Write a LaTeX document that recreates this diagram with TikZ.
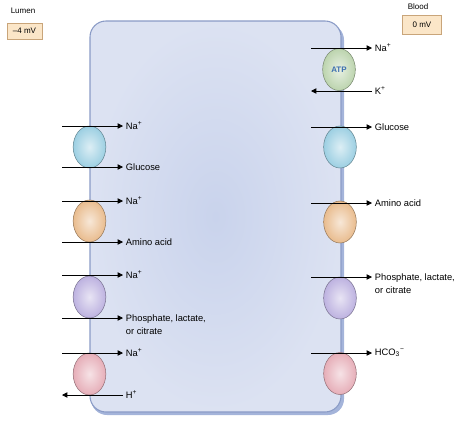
\documentclass[tikz,border=0pt]{standalone}
\usepackage{fontspec}
\setmainfont{Liberation Sans}
\usetikzlibrary{shapes.geometric,arrows.meta,positioning}

\definecolor{cellfill}{HTML}{DCE2F2}
\definecolor{cellmid}{HTML}{C9D3EC}
\definecolor{cellline}{HTML}{8A9BC6}
\definecolor{cellshadow}{HTML}{A4B4DA}
\definecolor{bluec}{HTML}{9CCFE2}
\definecolor{orangec}{HTML}{E9BC8E}
\definecolor{purplec}{HTML}{BDB2E0}
\definecolor{pinkc}{HTML}{E6AEB8}
\definecolor{greenc}{HTML}{BCD4AE}
\definecolor{atptext}{HTML}{3D6FB0}
\definecolor{mvfill}{HTML}{FBE6C8}
\definecolor{mvline}{HTML}{C9A57A}

\tikzset{
    carrier/.style={ellipse, draw=#1!65!black, line width=0.4pt,
        inner color=#1!35!white, outer color=#1,
        minimum width=24.5pt, minimum height=31.5pt, inner sep=0pt},
    flow/.style={-{Triangle[length=4pt,width=4pt]}, line width=0.6pt},
    lbl/.style={font=\fontsize{7}{9.5}\selectfont, inner sep=1pt},
    side/.style={font=\fontsize{6}{7}\selectfont, inner sep=0pt},
    mvbox/.style={draw=mvline, fill=mvfill, line width=0.5pt,
        font=\fontsize{6}{7}\selectfont, inner sep=0pt}
}

\begin{document}
\begin{tikzpicture}[x=0.75pt,y=-0.75pt]
    \useasboundingbox (0,0) rectangle (474,422);

    % Sides and their potentials
    \node[side] (lumen) at (23,11) {Lumen};
    \node[mvbox, minimum width=26pt, minimum height=12pt] (lumenmv) at (24.5,31) {–4 mV};
    \node[side] (blood) at (418,7) {Blood};
    \node[mvbox, minimum width=29pt, minimum height=14pt] (bloodmv) at (422,25) {0 mV};

    % The cell
    \fill[cellshadow, rounded corners=12pt] (91,24) rectangle (344,415);
    \path[shade, inner color=cellmid, outer color=cellfill, draw=cellline,
        line width=0.8pt, rounded corners=12pt] (90,21) rectangle (341,412);

    % Carriers in the luminal membrane
    \foreach \y/\c [count=\i] in {147/bluec, 221/orangec, 297/purplec, 374/pinkc}
    \node[carrier=\c] (lc\i) at (89.5,\y) {};

    % Carriers in the basolateral membrane
    \node[carrier=greenc, text=atptext, font=\fontsize{6}{7}\selectfont\bfseries] (rc1) at (339,69.5) {ATP};
    \foreach \y/\c [count=\i from 2] in {147/bluec, 222/orangec, 298/purplec, 373.5/pinkc}
    \node[carrier=\c] (rc\i) at (340,\y) {};

    % Luminal fluxes into the cell
    \foreach \y/\t [count=\i] in {
        126/Na\textsuperscript{+}, 167/Glucose, 201/Na\textsuperscript{+},
        242/Amino acid, 275/Na\textsuperscript{+}, 353/Na\textsuperscript{+}
    }{
        \coordinate (ls\i) at (62,\y);
        \coordinate (lt\i) at (123,\y);
        \draw[flow] (ls\i) -- (lt\i);
        \node[lbl, right=1pt of lt\i] (ll\i) {\t};
    }
    \coordinate (ls7) at (62,318);
    \coordinate (lt7) at (123,318);
    \draw[flow] (ls7) -- (lt7);
    \node[lbl, align=left, right=1pt of lt7, yshift=-4.75pt] (ll7) {Phosphate, lactate,\\or citrate};

    % H+ leaves to the lumen
    \coordinate (hs) at (123,395);
    \coordinate (ht) at (62,395);
    \draw[flow] (hs) -- (ht);
    \node[lbl, right=1pt of hs] (hl) {H\textsuperscript{+}};

    % Basolateral fluxes into the blood
    \foreach \y/\t [count=\i] in {
        48/Na\textsuperscript{+}, 127/Glucose, 203/Amino acid,
        353/HCO\textsubscript{3}\textsuperscript{−}
    }{
        \coordinate (rs\i) at (311,\y);
        \coordinate (rt\i) at (372,\y);
        \draw[flow] (rs\i) -- (rt\i);
        \node[lbl, right=1pt of rt\i] (rl\i) {\t};
    }
    \coordinate (rs5) at (311,277);
    \coordinate (rt5) at (372,277);
    \draw[flow] (rs5) -- (rt5);
    \node[lbl, align=left, right=1pt of rt5, yshift=-4.75pt] (rl5) {Phosphate, lactate,\\or citrate};

    % K+ pumped into the cell
    \coordinate (ks) at (372,91);
    \coordinate (kt) at (311,91);
    \draw[flow] (ks) -- (kt);
    \node[lbl, right=1pt of ks] (kl) {K\textsuperscript{+}};
\end{tikzpicture}
\end{document}
